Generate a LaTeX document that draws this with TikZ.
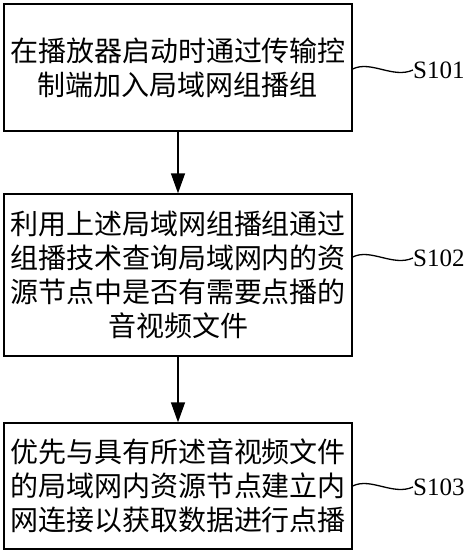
\documentclass[tikz,border=0pt]{standalone}
\usepackage{fontspec}
\setmainfont{Liberation Serif}
\newfontfamily\cjk{Noto Sans CJK SC}
\usetikzlibrary{arrows.meta}
\begin{document}
\begin{tikzpicture}[x=1pt,y=1pt,
  stepbox/.style={draw,line width=1.4pt,minimum width=348pt,inner sep=0pt,align=center,
    font=\cjk\fontsize{28}{34}\selectfont},
  flow/.style={line width=1.4pt,-{Triangle[width=14pt,length=20pt]}},
  wave/.style={line width=1.3pt},
  lbl/.style={anchor=west,inner sep=0pt,font=\fontsize{25}{28}\selectfont}]
\useasboundingbox (0,0) rectangle (474,-557);
\node[stepbox,minimum height=127pt] (b1) at (178,-67.5) {在播放器启动时通过传输控\\制端加入局域网组播组};
\node[stepbox,minimum height=162pt] (b2) at (178,-275) {利用上述局域网组播组通过\\组播技术查询局域网内的资\\源节点中是否有需要点播的\\音视频文件};
\node[stepbox,minimum height=126pt] (b3) at (178,-486) {优先与具有所述音视频文件\\的局域网内资源节点建立内\\网连接以获取数据进行点播};
\draw[flow] (b1.south) -- (b2.north);
\draw[flow] (b2.south) -- (b3.north);
\node[lbl] (l1) at (413,-70) {S101};
\node[lbl] (l2) at (413,-258) {S102};
\node[lbl] (l3) at (413,-487) {S103};
\coordinate (w1) at (b1.east |- 0,-69);
\coordinate (w2) at (b2.east |- 0,-257);
\coordinate (w3) at (b3.east |- 0,-486);
\draw[wave] (w1) .. controls +(18,9) and +(-20,-9) .. (l1.west);
\draw[wave] (w2) .. controls +(18,9) and +(-20,-9) .. (l2.west);
\draw[wave] (w3) .. controls +(18,9) and +(-20,-9) .. (l3.west);
\end{tikzpicture}
\end{document}
